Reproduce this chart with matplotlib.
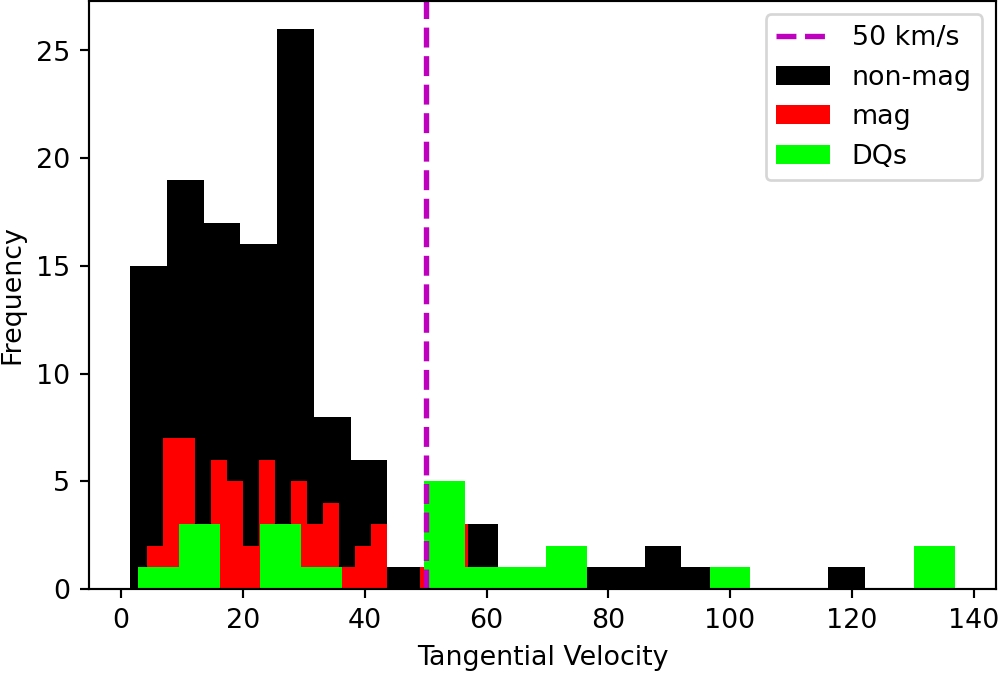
import numpy as np
import matplotlib
matplotlib.use("Agg")
import matplotlib.pyplot as plt

# bin counts (20 bins each, edges from min to max of each sample)
nonmag_range = (1.48, 122.2)
nonmag_counts = [15, 19, 17, 16, 26, 8, 6, 1, 1, 3,
                 0, 1, 1, 1, 2, 1, 0, 0, 0, 1]

mag_range = (4.2, 56.9)
mag_counts = [2, 7, 7, 1, 6, 5, 2, 6, 2, 5,
              3, 4, 1, 2, 3, 0, 0, 1, 0, 3]

dq_range = (2.73, 136.9)
dq_counts = [1, 3, 0, 3, 1, 0, 0, 5, 1, 1,
             2, 0, 0, 0, 1, 0, 0, 0, 0, 2]

cut_velocity = 50


def edges(rng, n):
    return np.linspace(rng[0], rng[1], n + 1)


fig, ax = plt.subplots(figsize=(5.161, 3.474), dpi=193.75)
fig.subplots_adjust(left=0.089, right=0.996, top=0.9985, bottom=0.125)

ax.axvline(cut_velocity, color='m', linestyle='--', linewidth=2, label='50 km/s')

for rng, counts, col, lab in [(nonmag_range, nonmag_counts, 'black', 'non-mag'),
                              (mag_range, mag_counts, 'red', 'mag'),
                              (dq_range, dq_counts, 'lime', 'DQs')]:
    b = edges(rng, len(counts))
    ax.hist(b[:-1], bins=b, weights=counts, color=col, label=lab)

ax.set_xlabel('Tangential Velocity')
ax.set_ylabel('Frequency')
ax.legend(loc='upper right')

fig.savefig('out.png')
